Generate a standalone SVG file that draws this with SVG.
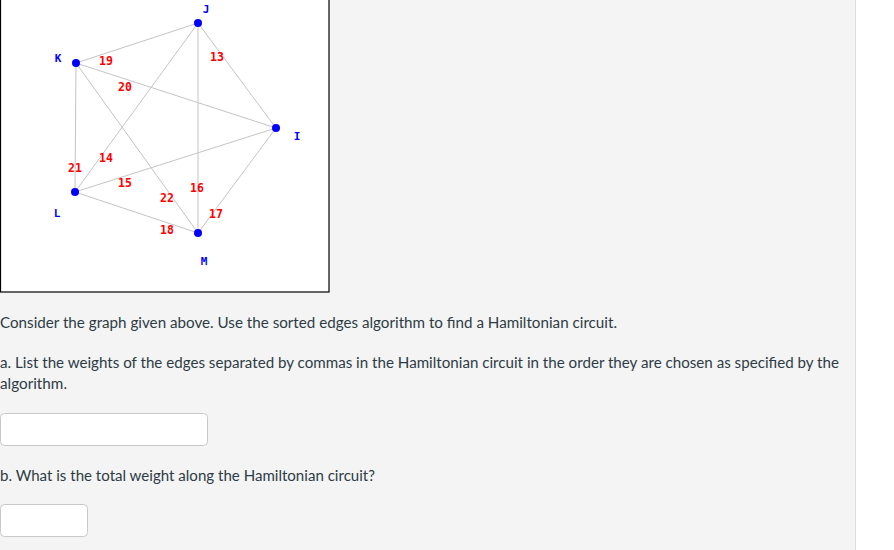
<svg xmlns="http://www.w3.org/2000/svg" width="894" height="550" viewBox="0 0 894 550">
<style>
.edge{stroke:#c4c4c4;stroke-width:1;fill:none}
.node{fill:#0000ff}
.nl{font-family:"DejaVu Sans Mono","Liberation Mono",monospace;font-weight:bold;font-size:11px;fill:#0000ff;text-anchor:middle;dominant-baseline:central}
.w{font-family:"DejaVu Sans Mono","Liberation Mono",monospace;font-weight:bold;font-size:11.5px;fill:#ff0000;text-anchor:middle;dominant-baseline:central}
.q{font-family:Lato,"Open Sans",sans-serif;font-size:14.5px;fill:#2d3b45}
.inp{fill:#ffffff;stroke:#c8c8c8;stroke-width:1}
</style>
<rect x="0" y="0" width="894" height="550" fill="#f4f4f4"/>
<rect x="856" y="0" width="38" height="550" fill="#ffffff"/>
<line x1="855.5" y1="0" x2="855.5" y2="550" stroke="#dcdcdc"/>
<rect x="0.5" y="-1" width="328.5" height="293" fill="#ffffff" stroke="#000000" stroke-width="1.2"/>
<g id="connectors">
<line class="edge" x1="76" y1="63" x2="198" y2="23"/>
<line class="edge" x1="198" y1="23" x2="276" y2="128"/>
<line class="edge" x1="198" y1="23" x2="198" y2="233"/>
<line class="edge" x1="198" y1="23" x2="75" y2="192"/>
<line class="edge" x1="76" y1="63" x2="276" y2="128"/>
<line class="edge" x1="76" y1="63" x2="75" y2="192"/>
<line class="edge" x1="76" y1="63" x2="198" y2="233"/>
<line class="edge" x1="276" y1="128" x2="75" y2="192"/>
<line class="edge" x1="276" y1="128" x2="198" y2="233"/>
<line class="edge" x1="75" y1="192" x2="198" y2="233"/>
</g>
<g id="weights">
<text class="w" x="106" y="61">19</text>
<text class="w" x="125" y="87">20</text>
<text class="w" x="217" y="57">13</text>
<text class="w" x="106" y="158">14</text>
<text class="w" x="75" y="168">21</text>
<text class="w" x="125" y="183">15</text>
<text class="w" x="167" y="198">22</text>
<text class="w" x="197" y="188">16</text>
<text class="w" x="216" y="214">17</text>
<text class="w" x="167" y="230">18</text>
</g>
<g id="node-J"><circle class="node" cx="198" cy="23" r="4"/><text class="nl" x="206" y="9">J</text></g>
<g id="node-K"><circle class="node" cx="76" cy="63" r="4"/><text class="nl" x="58" y="58">K</text></g>
<g id="node-I"><circle class="node" cx="276" cy="128" r="4"/><text class="nl" x="297" y="136">I</text></g>
<g id="node-L"><circle class="node" cx="75" cy="192" r="4"/><text class="nl" x="57" y="213">L</text></g>
<g id="node-M"><circle class="node" cx="198" cy="233" r="4"/><text class="nl" x="204" y="261">M</text></g>
<text class="q" x="0" y="328" textLength="617" lengthAdjust="spacingAndGlyphs">Consider the graph given above. Use the sorted edges algorithm to find a Hamiltonian circuit.</text>
<text class="q" x="0" y="368" textLength="839" lengthAdjust="spacingAndGlyphs">a. List the weights of the edges separated by commas in the Hamiltonian circuit in the order they are chosen as specified by the</text>
<text class="q" x="0" y="389" textLength="67" lengthAdjust="spacingAndGlyphs">algorithm.</text>
<rect class="inp" x="0.5" y="413.5" width="207" height="32" rx="4"/>
<text class="q" x="0" y="481" textLength="375" lengthAdjust="spacingAndGlyphs">b. What is the total weight along the Hamiltonian circuit?</text>
<rect class="inp" x="0.5" y="504.5" width="87" height="32" rx="4"/>
</svg>
